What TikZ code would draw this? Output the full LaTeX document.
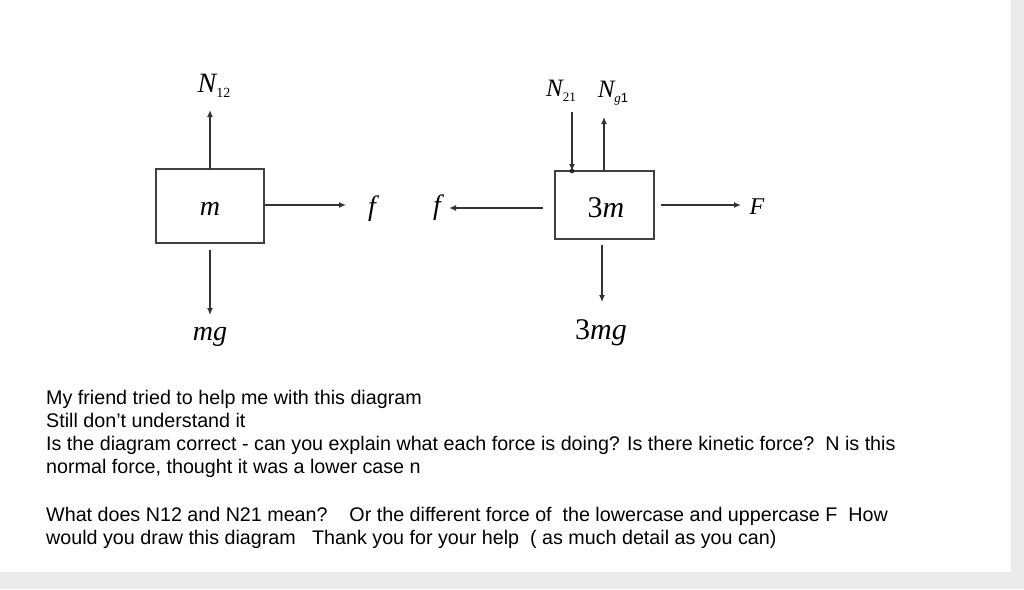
\documentclass[tikz,border=0pt]{standalone}
\usepackage{fontspec}
\usetikzlibrary{arrows.meta}
\setmainfont{Liberation Sans}
\newfontfamily\tms{Liberation Serif}
\begin{document}
\begin{tikzpicture}[x=1pt,y=-1pt,
  box/.style={draw=black!75,line width=1.4pt,fill=white},
  frc/.style={draw=black!80,line width=1.3pt,-{Latex[length=7pt,width=6pt]}},
  lab/.style={font=\tms\itshape\fontsize{28}{30}\selectfont,inner sep=0pt},
  txt/.style={font=\fontsize{19.7}{22}\selectfont,anchor=base west,inner sep=0pt}]
\useasboundingbox (0,0) rectangle (1024,589);
\fill[black!8] (0,0) rectangle (1024,589);
\fill[white] (0,0) rectangle (1011,572);
% left block
\node[box,minimum width=108pt,minimum height=74pt] (m) at (210,206) {};
\node[lab] at (210,209) {m};
\coordinate (mt) at (210,169);
\coordinate (mup) at (210,110);
\coordinate (mb) at (210,250);
\coordinate (mdn) at (210,315);
\coordinate (mr) at (265,205);
\coordinate (mf) at (346,205);
\draw[frc] (mt) -- (mup);
\draw[frc] (mb) -- (mdn);
\draw[frc] (mr) -- (mf);
\node[lab] (N12) at (214,86) {N\raisebox{-5pt}{\normalfont\tms\fontsize{14}{16}\selectfont 12}};
\node[lab] (mg) at (210,337) {mg};
\node[lab] (f1) at (372,209) {f};
% right block
\node[box,minimum width=99pt,minimum height=68pt] (M) at (604.5,205) {};
\node[lab,font=\tms\fontsize{30}{32}\selectfont] at (606,208) {3\textit{m}};
\coordinate (Ml) at (543,208);
\coordinate (Mlf) at (449,208);
\coordinate (Nt) at (572,112);
\coordinate (Nb) at (572,171);
\coordinate (Gb) at (604,171);
\coordinate (Gt) at (604,117);
\coordinate (Db) at (602,245);
\coordinate (Dd) at (602,302);
\coordinate (Fr) at (661,205);
\coordinate (Fe) at (741,205);
\draw[frc] (Ml) -- (Mlf);
\draw[frc] (Nt) -- (Nb);
\draw[fill=black!80] (Nb) circle (2pt);
\draw[frc] (Gb) -- (Gt);
\draw[frc] (Db) -- (Dd);
\draw[frc] (Fr) -- (Fe);
\node[lab] (f2) at (437,208) {f};
\node[lab,font=\tms\itshape\fontsize{25}{28}\selectfont] (N21) at (561,91) {N\raisebox{-5pt}{\normalfont\tms\fontsize{13}{14}\selectfont 21}};
\node[lab,font=\tms\itshape\fontsize{25}{28}\selectfont] (Ng) at (613,93) {N\raisebox{-5pt}{\tms\fontsize{13}{14}\selectfont\textit{g}\normalfont 1}};
\node[lab,font=\tms\fontsize{30}{32}\selectfont] (3mg) at (601,333) {3\textit{mg}};
\node[lab,font=\tms\itshape\fontsize{24}{26}\selectfont] (F) at (757,207) {F};
% text
\node[txt] (t1) at (46,404) {My friend tried to help me with this diagram};
\node[txt] (t2) at (46,427) {Still don’t understand it};
\node[txt] (t3) at (46,450) {Is the diagram correct - can you explain what each force is doing? Is there kinetic force?\ \ N is this};
\node[txt] (t4) at (46,473) {normal force, thought it was a lower case n};
\node[txt] (t5) at (46,521) {What does N12 and N21 mean?\ \ \ \ Or the different force of\ \ the lowercase and uppercase F\ \ How};
\node[txt] (t6) at (46,544) {would you draw this diagram\ \ \ Thank you for your help\ \ ( as much detail as you can)};
\end{tikzpicture}
\end{document}
